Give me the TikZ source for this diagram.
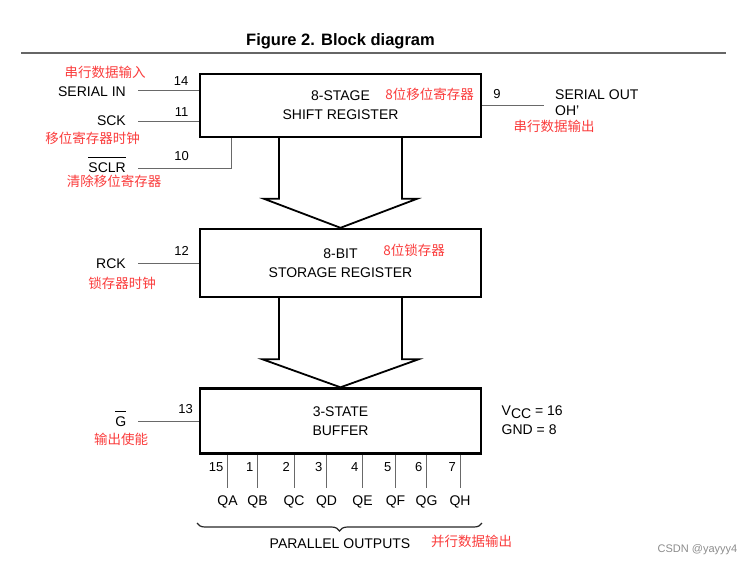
\documentclass[tikz,border=0pt]{standalone}
\usepackage{fontspec}
\setmainfont{Liberation Sans}
\newfontfamily\cjk{Noto Sans CJK SC}
\usepackage{tikz}
\usetikzlibrary{decorations.pathreplacing, positioning}
\definecolor{notered}{RGB}{250,60,60}
\definecolor{wiregray}{RGB}{105,105,105}
\newcommand{\barred}[1]{\setbox0\hbox{#1}\rlap{\rule[15pt]{\wd0}{0.8pt}}\box0}
\tikzstyle{block} = [rectangle, draw=black, line width=2.4pt, minimum width=281pt, align=center, inner sep=0pt, font=\fontsize{14}{19}\selectfont]
\tikzstyle{sig} = [inner sep=0pt, font=\fontsize{14}{17}\selectfont]
\tikzstyle{pinnum} = [inner sep=0pt, font=\fontsize{13}{15}\selectfont]
\tikzstyle{note} = [inner sep=0pt, text=notered, font=\cjk\fontsize{13.5}{16}\selectfont]
\tikzstyle{wire} = [draw=wiregray, line width=1pt]
\tikzstyle{bus} = [draw=black, line width=1.8pt, line join=miter]

\begin{document}
\begin{tikzpicture}[x=1pt, y=-1pt]
\useasboundingbox (0,0) rectangle (751,566);

% Title
\node (title) [font=\bfseries\fontsize{16.5}{20}\selectfont, inner sep=0pt] at (340.5,41) {Figure 2. Block diagram};
\coordinate (rulel) at (21,53);
\coordinate (ruler) at (726,53);
\draw [draw=black!60, line width=1.5pt] (rulel) -- (ruler);

% Blocks
\node (shift) [block, minimum height=63pt] at (340.5,105.5) {8-STAGE\\SHIFT REGISTER};
\node (storage) [block, minimum height=68pt] at (340.5,263) {8-BIT\\STORAGE REGISTER};
\node (buffer) [block, minimum height=65pt] at (340.5,421) {3-STATE\\BUFFER};

% Inputs of the shift register
\coordinate (sinw) at (138,90);
\coordinate (sckw) at (138,121);
\coordinate (sclrw) at (138,168);
\node (sin) [sig, anchor=east] at (126,91.5) {SERIAL IN};
\node (sck) [sig, anchor=east] at (126,120.5) {SCK};
\node (sclr) [sig, anchor=base east] at (126,172.3) {\barred{SCLR}};
\node [pinnum] at (181,81) {14};
\node [pinnum] at (181.5,112) {11};
\node [pinnum] at (181.5,156.5) {10};
\draw [wire] (sinw) -- (sinw -| shift.west);
\draw [wire] (sckw) -- (sckw -| shift.west);
\draw [wire] (sclrw) -| ([xshift=-109.5pt]shift.south);

% Serial output
\coordinate (soutw) at (544,105.7);
\draw [wire] (shift.east |- soutw) -- (soutw);
\node [pinnum] at (497,94.5) {9};
\node (sout) [sig, anchor=west, align=left, font=\fontsize{14}{16}\selectfont] at (555,102.7) {SERIAL OUT\\OH'};

% Storage register clock
\coordinate (rckw) at (138,263);
\draw [wire] (rckw) -- (rckw -| storage.west);
\node (rck) [sig, anchor=east] at (126,264) {RCK};
\node [pinnum] at (181.5,250.5) {12};

% Output enable
\coordinate (gw) at (138,421.7);
\draw [wire] (gw) -- (gw -| buffer.west);
\node (oe) [sig, anchor=base] at (120.7,426.7) {\barred{G}};
\node [pinnum] at (185.5,409.3) {13};

% Supply pins
\node (vcc) [sig, anchor=base west] at (501.5,415.5) {V\raisebox{-3pt}{CC} = 16};
\node (gnd) [sig, anchor=base west] at (501.5,434) {GND = 8};

% Wide arrows
\draw [bus] ([xshift=-61.5pt]shift.south) -- ([xshift=-61.5pt,yshift=29pt]storage.north)
  -- ([xshift=-76.5pt,yshift=29pt]storage.north) -- (storage.north)
  -- ([xshift=76.5pt,yshift=29pt]storage.north) -- ([xshift=61.5pt,yshift=29pt]storage.north)
  -- ([xshift=61.5pt]shift.south);
\draw [bus] ([xshift=-61.5pt]storage.south) -- ([xshift=-61.5pt,yshift=28pt]buffer.north)
  -- ([xshift=-78pt,yshift=28pt]buffer.north) -- (buffer.north)
  -- ([xshift=78pt,yshift=28pt]buffer.north) -- ([xshift=61.5pt,yshift=28pt]buffer.north)
  -- ([xshift=61.5pt]storage.south);

% Parallel outputs
\foreach \px/\pn/\qn [count=\i] in {227.5/15/QA, 257.5/1/QB, 294/2/QC, 326.5/3/QD, 362.5/4/QE, 395.5/5/QF, 426.5/6/QG, 460/7/QH} {
  \coordinate (e\i) at (\px,488);
  \draw [wire] (buffer.south -| e\i) -- (e\i);
  \node [pinnum, anchor=east] at (\px-4,467) {\pn};
  \node (q\i) [sig] at (\px,502) {\qn};
}
\coordinate (brl) at (197,523);
\coordinate (brr) at (482,523);
\draw [draw=black!85, line width=1.2pt, decorate, decoration={brace, mirror, amplitude=8pt}] (brl) -- (brr);
\node (par) [sig] at (340,544) {PARALLEL OUTPUTS};

% Notes
\node [note] at (105,72) {串行数据输入};
\node [note] at (92.5,138) {移位寄存器时钟};
\node [note] at (114,181.5) {清除移位寄存器};
\node [note, anchor=east] at (474,94.5) {8位移位寄存器};
\node [note] at (554,126) {串行数据输出};
\node [note] at (414,250) {8位锁存器};
\node [note] at (122,283) {锁存器时钟};
\node [note] at (121,439.5) {输出使能};
\node [note, anchor=west] at (431,541.5) {并行数据输出};

% Watermark
\node (mark) [inner sep=0pt, text=black!45, font=\fontsize{11}{13}\selectfont] at (697.5,550) {CSDN @yayyy4};

\end{tikzpicture}
\end{document}
